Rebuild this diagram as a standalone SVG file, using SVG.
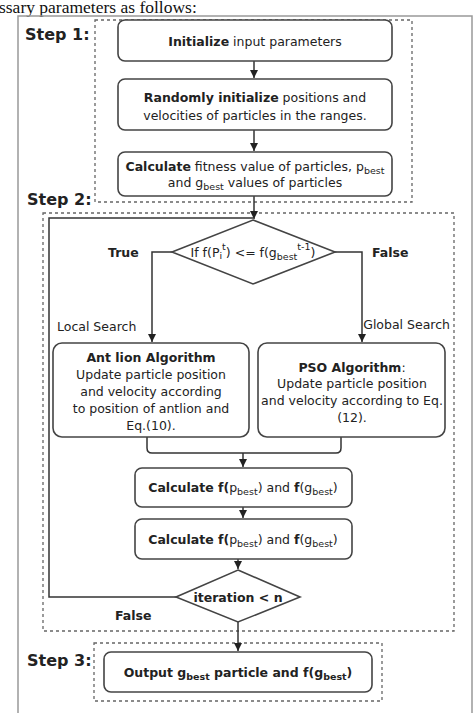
<svg xmlns="http://www.w3.org/2000/svg" width="474" height="713" viewBox="0 0 474 713">
<style>
.box{fill:#fff;stroke:#444;stroke-width:1.6}
.dash{fill:none;stroke:#666;stroke-width:1.3;stroke-dasharray:3,3}
.ln{fill:none;stroke:#333;stroke-width:1.5}
.t{font-family:"DejaVu Sans",Verdana,sans-serif;font-size:12.5px;fill:#222}
.b{font-weight:bold}
.step{font-family:"DejaVu Sans",Verdana,sans-serif;font-size:16px;font-weight:bold;fill:#222}
.sub{font-size:9.5px}
</style>
<defs>
<marker id="ar" markerWidth="10" markerHeight="10" refX="8" refY="5" orient="auto" markerUnits="userSpaceOnUse">
<path d="M0,1 L8,5 L0,9 Z" fill="#222"/>
</marker>
</defs>
<rect width="474" height="713" fill="#fff"/>
<text x="-1" y="13" font-family="Liberation Serif,serif" font-size="17.5" fill="#111">ssary parameters as follows:</text>
<rect x="18" y="16" width="454" height="720" fill="none" stroke="#999" stroke-width="1.5"/>

<g id="steps">
<rect class="dash" x="95" y="20" width="317" height="182"/>
<rect class="dash" x="43" y="213" width="411" height="418"/>
<rect class="dash" x="94" y="643" width="288" height="58"/>
<text class="step" x="25" y="40">Step 1:</text>
<text class="step" x="27" y="205">Step 2:</text>
<text class="step" x="27" y="666">Step 3:</text>
</g>

<g id="connectors">
<path class="ln" d="M254,61 V78" marker-end="url(#ar)"/>
<path class="ln" d="M254,130 V151" marker-end="url(#ar)"/>
<path class="ln" d="M254,196 V219" marker-end="url(#ar)"/>
<path class="ln" d="M176,597 H49 V218 H253"/>
<path class="ln" d="M172,252 H152 V342" marker-end="url(#ar)"/>
<path class="ln" d="M335,252 H362 V342" marker-end="url(#ar)"/>
<path class="ln" d="M147,437 V448 Q147,453 152,453 H336 Q341,453 341,448 V437"/>
<path class="ln" d="M243,453 V467" marker-end="url(#ar)"/>
<path class="ln" d="M243,507 V518" marker-end="url(#ar)"/>
<path class="ln" d="M238,559 V569" marker-end="url(#ar)"/>
<path class="ln" d="M238,622 V651" marker-end="url(#ar)"/>
</g>

<g id="n1">
<rect class="box" x="118" y="20" width="274" height="41" rx="7"/>
<text class="t" x="255" y="45.5" text-anchor="middle"><tspan class="b">Initialize</tspan> input parameters</text>
</g>
<g id="n2">
<rect class="box" x="118" y="79" width="274" height="51" rx="7"/>
<text class="t" x="255" y="101.5" text-anchor="middle"><tspan class="b">Randomly initialize</tspan> positions and</text>
<text class="t" x="255" y="119.5" text-anchor="middle">velocities of particles in the ranges.</text>
</g>
<g id="n3">
<rect class="box" x="118" y="152" width="274" height="44" rx="7"/>
<text class="t" x="255" y="170.5" text-anchor="middle"><tspan class="b">Calculate</tspan> fitness value of  particles, p<tspan class="sub" dy="3">best</tspan></text>
<text class="t" x="255" y="187" text-anchor="middle">and g<tspan class="sub" dy="3">best</tspan><tspan dy="-3"> values of particles</tspan></text>
</g>
<g id="d1">
<path class="box" d="M253,220 L335,252 L253,284 L172,252 Z"/>
<text class="t" x="253" y="256.5" text-anchor="middle">If f(P<tspan class="sub" dy="2">i</tspan><tspan class="sub" dy="-9">t</tspan><tspan dy="7">) &lt;= f(g</tspan><tspan class="sub" dy="3">best</tspan><tspan class="sub" dy="-10">t-1</tspan><tspan dy="7">)</tspan></text>
<text class="t b" x="108" y="257" font-size="14px">True</text>
<text class="t b" x="372" y="257" font-size="14px">False</text>
<text class="t" x="57" y="331" font-size="11.5px">Local Search</text>
<text class="t" x="450" y="329" font-size="11.5px" text-anchor="end">Global Search</text>
</g>
<g id="n4">
<rect class="box" x="53" y="343" width="196" height="94" rx="9"/>
<text class="t b" x="151" y="362" text-anchor="middle">Ant lion Algorithm</text>
<text class="t" x="151" y="379" text-anchor="middle">Update particle position</text>
<text class="t" x="151" y="396" text-anchor="middle">and velocity according</text>
<text class="t" x="151" y="413" text-anchor="middle">to position of antlion and</text>
<text class="t" x="151" y="430" text-anchor="middle">Eq.(10).</text>
</g>
<g id="n5">
<rect class="box" x="258" y="343" width="187" height="94" rx="9"/>
<text class="t" x="352" y="372" text-anchor="middle"><tspan class="b">PSO Algorithm</tspan>:</text>
<text class="t" x="352" y="388" text-anchor="middle">Update particle position</text>
<text class="t" x="352" y="405" text-anchor="middle">and velocity according to Eq.</text>
<text class="t" x="352" y="422" text-anchor="middle">(12).</text>
</g>
<g id="n6">
<rect class="box" x="135" y="468" width="217" height="39" rx="7"/>
<text class="t" x="243" y="492" text-anchor="middle"><tspan class="b">Calculate f(</tspan>p<tspan class="sub" dy="3">best</tspan><tspan dy="-3">) and </tspan><tspan class="b">f</tspan>(g<tspan class="sub" dy="3">best</tspan><tspan dy="-3">)</tspan></text>
</g>
<g id="n7">
<rect class="box" x="135" y="519" width="217" height="40" rx="7"/>
<text class="t" x="243" y="544" text-anchor="middle"><tspan class="b">Calculate f(</tspan>p<tspan class="sub" dy="3">best</tspan><tspan dy="-3">) and </tspan><tspan class="b">f</tspan>(g<tspan class="sub" dy="3">best</tspan><tspan dy="-3">)</tspan></text>
</g>
<g id="d2">
<path class="box" d="M238,570 L300,597 L238,622 L176,597 Z"/>
<text class="t b" x="238" y="601.5" text-anchor="middle" font-size="13.5px">iteration &lt; n</text>
<text class="t b" x="115" y="620" font-size="14px">False</text>
</g>
<g id="n8">
<rect class="box" x="104" y="652" width="268" height="40" rx="7"/>
<text class="t b" x="238" y="677" text-anchor="middle" font-size="13.5px">Output g<tspan class="sub" dy="3" font-size="10.5px">best</tspan><tspan dy="-3"> particle and f(g</tspan><tspan class="sub" dy="3" font-size="10.5px">best</tspan><tspan dy="-3">)</tspan></text>
</g>
</svg>
